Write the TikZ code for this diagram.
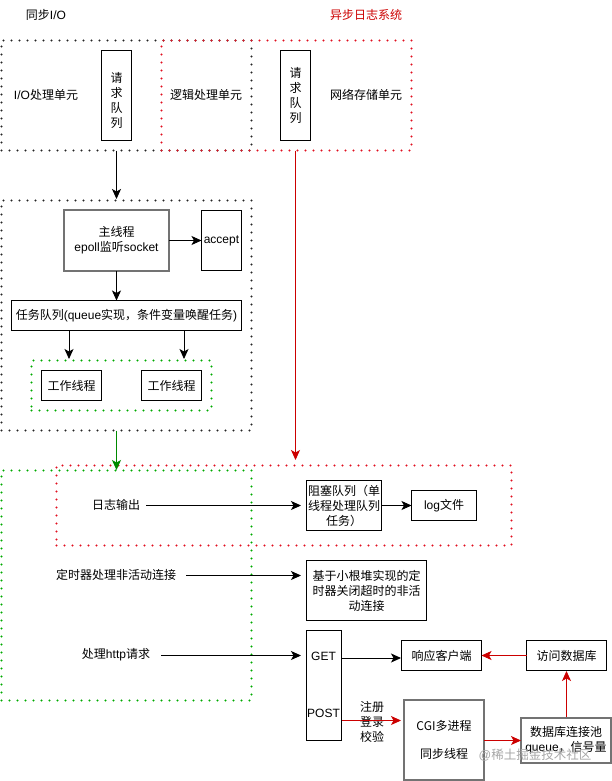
\documentclass[tikz,border=0pt]{standalone}
\usepackage{fontspec}
\setmainfont{Liberation Sans}
\newfontfamily\cjfont{Noto Sans CJK SC}
\newcommand{\cj}[1]{{\cjfont #1}}
\usetikzlibrary{arrows.meta}
\definecolor{rd}{HTML}{CC0000}
\definecolor{gn}{HTML}{008A00}
\definecolor{gnd}{HTML}{00AA00}
\definecolor{rdd}{HTML}{E01020}
\tikzset{
  x=1pt,y=-1pt,
  every node/.style={inner sep=0pt,outer sep=0pt,font=\fontsize{12pt}{15pt}\selectfont,align=center},
  boxn/.style={draw=black,line width=0.9pt},
  softbox/.style={draw=black!55,line width=1.8pt},
  region/.style={line width=2.2pt,line cap=round,dash pattern=on 0pt off 8pt},
  blackreg/.style={region,draw=black!85},
  redreg/.style={region,draw=rdd},
  greenreg/.style={region,draw=gnd},
  tipk/.style={-{Stealth[length=10pt,width=9pt,inset=2.5pt]},line width=0.9pt},
  blk/.style={tipk,draw=black},
  red/.style={tipk,draw=rd,color=rd},
  grn/.style={tipk,draw=gn,color=gn},
}
\newcommand{\bx}[7][boxn]{\node[#1,minimum width=#5pt-#3pt,minimum height=#6pt-#4pt] (#2) at ({(#3+#5)/2},{(#4+#6)/2}) {#7};}
\begin{document}
\begin{tikzpicture}
\useasboundingbox (0,0) rectangle (612,781);
% regions
\bx[blackreg]{rIO}{1.5}{40.5}{251.5}{150.5}{}
\bx[redreg]{rLog}{161.5}{40.5}{411.5}{150.5}{}
\bx[blackreg]{rMain}{1.5}{200.5}{251.5}{430.5}{}
\bx[greenreg]{rWork}{31.5}{360.5}{211.5}{410.5}{}
\bx[greenreg]{rBot}{1.5}{470.5}{251.5}{700.5}{}
\bx[redreg]{rOut}{56.5}{465.5}{511.5}{545.5}{}
% titles
\node (t1) at (46,15) {\cj{同步}I/O};
\node[text=rd] (t2) at (366,15) {\cj{异步日志系统}};
% top row
\node (io) at (46,95) {I/O\cj{处理单元}};
\bx{qa}{101.5}{50.5}{131.5}{140.5}{}
\node (qat) at (116.5,100) {\cj{请}\\\cj{求}\\\cj{队}\\\cj{列}};
\node (lg) at (206,95) {\cj{逻辑处理单元}};
\bx{qb}{280.5}{50.5}{310.5}{140.5}{\cj{请}\\\cj{求}\\\cj{队}\\\cj{列}}
\node (ns) at (366,95) {\cj{网络存储单元}};
% middle
\bx[softbox]{mainb}{64}{210}{169}{271}{\cj{主线程}\\epoll\cj{监听}socket}
\bx{acc}{201.5}{210.5}{241.5}{270.5}{accept}
\bx{task}{11.5}{300.5}{241.5}{330.5}{\cj{任务队列}(queue\cj{实现，条件变量唤醒任务})}
\bx{w1}{41.5}{370.5}{101.5}{400.5}{\cj{工作线程}}
\bx{w2}{141.5}{370.5}{201.5}{400.5}{\cj{工作线程}}
% bottom-left labels
\node (l1) at (116,505) {\cj{日志输出}};
\node (l2) at (116,575) {\cj{定时器处理非活动连接}};
\node (l3) at (116,655) {\cj{处理}http\cj{请求}};
% right boxes
\bx{blk1}{306.5}{480.5}{381.5}{530.5}{\cj{阻塞队列（单}\\\cj{线程处理队列}\\\cj{任务）}}
\bx{logf}{411.5}{490.5}{476.5}{520.5}{log\cj{文件}}
\bx{tm}{306.5}{560.5}{426.5}{620.5}{\cj{基于小根堆实现的定}\\\cj{时器关闭超时的非活}\\\cj{动连接}}
\bx{gp}{306.5}{630.5}{341.5}{740.5}{}
\node (get) at (323.5,656) {GET};
\node (post) at (323.5,713) {POST};
\bx{resp}{401.5}{640.5}{481.5}{670.5}{\cj{响应客户端}}
\bx{db}{526.5}{640.5}{606.5}{670.5}{\cj{访问数据库}}
\bx[softbox]{cgi}{404}{700}{484}{780}{\cj{CGI多进程}\\[13pt]\cj{同步线程}}
\bx[softbox]{pool}{521}{718}{611}{763}{\cj{数据库连接池}\\queue\cj{，信号量}}
\node (reg) at (372,722) {\cj{注册}\\\cj{登录}\\\cj{校验}};
\node[text=black!35,font=\fontsize{12.5pt}{14pt}\selectfont] (wm) at (535,755) {@\cj{稀土掘金技术社区}};
% free ends
\coordinate (qaOut) at (116.5,150.5);
\coordinate (qaIn) at (116.5,199);
\coordinate (qbOut) at (295.5,150.5);
\coordinate (qbIn) at (295.5,460);
\coordinate (t1o) at (69,330.5);
\coordinate (t1i) at (69,359);
\coordinate (t2o) at (184,330.5);
\coordinate (t2i) at (184,359);
\coordinate (gOut) at (116.5,430.5);
\coordinate (gIn) at (116.5,470);
\coordinate (a1o) at (146,505.5);
\coordinate (a1i) at (301,505.5);
\coordinate (a2o) at (186,575.5);
\coordinate (a2i) at (301,575.5);
\coordinate (a3o) at (161,655.5);
\coordinate (a3i) at (301,655.5);
\coordinate (geto) at (342,658);
\coordinate (geti) at (401,658);
\coordinate (posto) at (342,720.5);
\coordinate (posti) at (401,720.5);
\coordinate (cgio) at (484,740.5);
\coordinate (pooli) at (521,740.5);
\coordinate (poolo) at (566.5,717);
\coordinate (dbi) at (566.5,671);
% connectors
\draw[blk] (qaOut) -- (qaIn);
\draw[red] (qbOut) -- (qbIn);
\draw[blk] (mainb.east) -- (acc.west);
\draw[blk] (mainb.south) -- (mainb.south |- task.north);
\draw[blk] (t1o) -- (t1i);
\draw[blk] (t2o) -- (t2i);
\draw[grn] (gOut) -- (gIn);
\draw[blk] (a1o) -- (a1i);
\draw[blk] (blk1.east) -- (logf.west);
\draw[blk] (a2o) -- (a2i);
\draw[blk] (a3o) -- (a3i);
\draw[blk] (geto) -- (geti);
\draw[red] (db.west) -- (resp.east);
\draw[red] (posto) -- (posti);
\draw[red] (cgio) -- (pooli);
\draw[red] (poolo) -- (dbi);
\end{tikzpicture}
\end{document}
